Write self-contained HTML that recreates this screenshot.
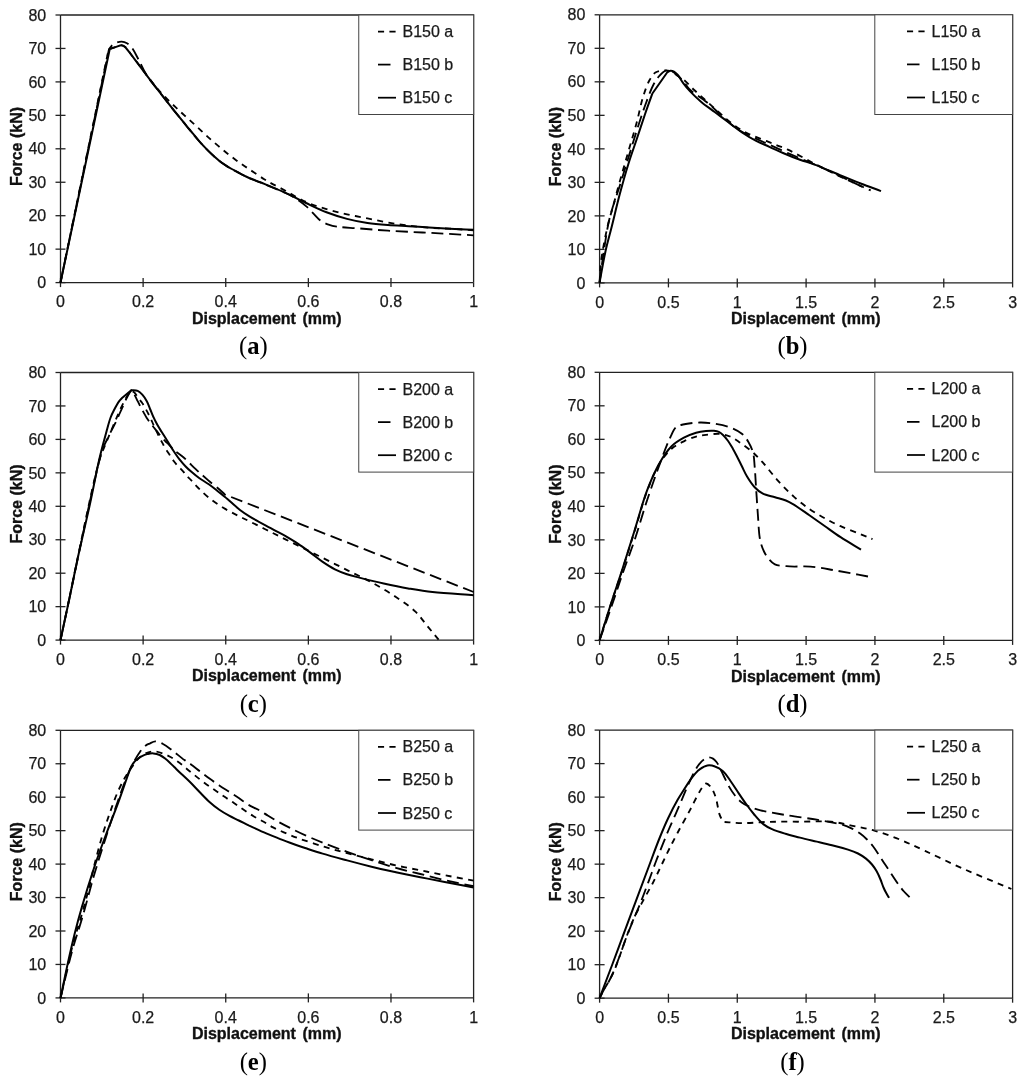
<!DOCTYPE html><html><head><meta charset="utf-8"><style>html,body{margin:0;padding:0;background:#fff;overflow:hidden;}svg{display:block;}.t{font-family:"Liberation Sans",Arial,sans-serif;font-size:16px;fill:#1a1a1a;stroke:#1a1a1a;stroke-width:0.25px;}.b{font-weight:bold;fill:#111;stroke:#111;stroke-width:0.35px;}.s{font-family:"Liberation Serif","Times New Roman",serif;font-size:24.6px;fill:#000;}</style></head><body>
<svg width="1024" height="1080" viewBox="0 0 1024 1080">
<rect width="1024" height="1080" fill="#fff"/>
<path d="M60.5,15.0 H473.6 V282.6" fill="none" stroke="#222" stroke-width="1.3"/>
<path d="M60.5,15.0 V282.6 H473.6" fill="none" stroke="#222" stroke-width="1.3"/>
<line x1="55.5" y1="282.60" x2="65.5" y2="282.60" stroke="#222" stroke-width="1.3"/>
<text x="46.2" y="288.2" class="t" text-anchor="end">0</text>
<line x1="55.5" y1="249.15" x2="65.5" y2="249.15" stroke="#222" stroke-width="1.3"/>
<text x="46.2" y="254.8" class="t" text-anchor="end">10</text>
<line x1="55.5" y1="215.70" x2="65.5" y2="215.70" stroke="#222" stroke-width="1.3"/>
<text x="46.2" y="221.3" class="t" text-anchor="end">20</text>
<line x1="55.5" y1="182.25" x2="65.5" y2="182.25" stroke="#222" stroke-width="1.3"/>
<text x="46.2" y="187.8" class="t" text-anchor="end">30</text>
<line x1="55.5" y1="148.80" x2="65.5" y2="148.80" stroke="#222" stroke-width="1.3"/>
<text x="46.2" y="154.4" class="t" text-anchor="end">40</text>
<line x1="55.5" y1="115.35" x2="65.5" y2="115.35" stroke="#222" stroke-width="1.3"/>
<text x="46.2" y="120.9" class="t" text-anchor="end">50</text>
<line x1="55.5" y1="81.90" x2="65.5" y2="81.90" stroke="#222" stroke-width="1.3"/>
<text x="46.2" y="87.5" class="t" text-anchor="end">60</text>
<line x1="55.5" y1="48.45" x2="65.5" y2="48.45" stroke="#222" stroke-width="1.3"/>
<text x="46.2" y="54.1" class="t" text-anchor="end">70</text>
<line x1="55.5" y1="15.00" x2="60.5" y2="15.00" stroke="#222" stroke-width="1.3"/>
<text x="46.2" y="20.6" class="t" text-anchor="end">80</text>
<line x1="60.50" y1="278.1" x2="60.50" y2="287.1" stroke="#222" stroke-width="1.3"/>
<text x="60.50" y="307.2" class="t" text-anchor="middle">0</text>
<line x1="143.12" y1="278.1" x2="143.12" y2="287.1" stroke="#222" stroke-width="1.3"/>
<text x="143.12" y="307.2" class="t" text-anchor="middle">0.2</text>
<line x1="225.74" y1="278.1" x2="225.74" y2="287.1" stroke="#222" stroke-width="1.3"/>
<text x="225.74" y="307.2" class="t" text-anchor="middle">0.4</text>
<line x1="308.36" y1="278.1" x2="308.36" y2="287.1" stroke="#222" stroke-width="1.3"/>
<text x="308.36" y="307.2" class="t" text-anchor="middle">0.6</text>
<line x1="390.98" y1="278.1" x2="390.98" y2="287.1" stroke="#222" stroke-width="1.3"/>
<text x="390.98" y="307.2" class="t" text-anchor="middle">0.8</text>
<line x1="473.60" y1="282.6" x2="473.60" y2="287.1" stroke="#222" stroke-width="1.3"/>
<text x="473.60" y="307.2" class="t" text-anchor="middle">1</text>
<text x="266.7" y="323.8" class="t b" text-anchor="middle" word-spacing="2">Displacement (mm)</text>
<text transform="translate(21.5,146.5) rotate(-90)" x="0" y="0" class="t b" text-anchor="middle">Force (kN)</text>
<path d="M60.5,282.5 L108.6,49.5 L108.6,49.5 C110.8,48.7 113.1,47.8 115.3,47.1 C117.4,46.4 119.7,45.2 121.5,45.3 C122.8,45.4 123.7,45.8 125.0,46.8 C127.5,48.7 130.7,54.1 134.0,58.3 C137.9,63.4 143.0,70.2 146.9,75.3 C150.2,79.6 152.8,83.3 156.0,87.0 C159.1,90.7 162.3,94.1 165.6,97.5 C168.9,100.9 172.5,104.3 175.8,107.4 C178.8,110.2 181.5,112.8 184.4,115.4 C187.3,118.0 190.1,120.5 193.0,123.1 C195.9,125.7 198.8,128.5 201.6,131.1 C204.3,133.6 206.8,136.0 209.5,138.4 C212.3,140.9 215.3,143.4 218.2,145.9 C221.0,148.3 223.8,150.7 226.7,153.0 C229.7,155.4 233.0,157.9 236.1,160.2 C239.0,162.3 241.8,164.2 244.7,166.2 C247.8,168.3 250.9,170.4 254.1,172.5 C257.4,174.7 261.3,177.4 264.2,179.2 C266.4,180.6 267.6,181.3 270.0,182.6 C273.9,184.8 280.0,187.8 285.5,190.8 C291.9,194.2 299.0,198.9 306.0,202.0 C312.7,205.0 319.6,207.1 326.5,209.2 C333.3,211.2 340.1,212.8 347.0,214.3 C353.8,215.8 360.7,217.0 367.5,218.4 C374.3,219.8 381.1,221.3 388.0,222.5 C394.8,223.7 401.7,224.7 408.6,225.6 C415.4,226.5 422.2,227.2 429.0,227.7 C435.8,228.2 442.5,228.3 449.6,228.7 C457.3,229.1 465.6,229.8 473.6,230.3" fill="none" stroke="#000" stroke-width="1.85" stroke-linejoin="round" stroke-dasharray="6 5.4"/>
<path d="M60.5,282.5 L109.0,49.2 L109.0,49.2 C110.2,47.8 111.2,46.1 112.5,45.0 C113.6,44.0 114.7,43.4 116.1,42.8 C117.7,42.2 119.8,41.5 121.6,41.6 C123.4,41.7 125.4,42.3 127.0,43.2 C128.7,44.2 130.2,45.6 131.7,47.5 C133.8,50.1 136.0,54.8 137.6,57.7 C138.7,59.8 139.2,61.0 140.3,63.1 C141.9,66.2 143.6,70.4 146.2,74.5 C149.7,80.1 156.1,87.6 160.2,93.0 C163.4,97.2 165.7,100.1 168.8,104.0 C172.2,108.4 176.8,114.0 180.0,118.0 C182.5,121.0 184.3,123.3 186.5,126.0 C188.7,128.6 190.8,131.3 193.0,133.9 C195.1,136.5 197.2,139.0 199.4,141.5 C201.5,143.9 203.7,146.3 205.9,148.6 C208.0,150.8 210.2,152.9 212.4,154.9 C214.5,156.9 216.7,158.8 218.9,160.6 C221.0,162.3 223.2,163.8 225.4,165.3 C227.5,166.7 229.5,167.9 231.8,169.2 C234.3,170.6 237.5,172.2 240.0,173.5 C242.2,174.6 243.9,175.7 246.0,176.7 C248.1,177.7 250.2,178.6 252.5,179.5 C255.0,180.5 257.6,181.4 260.3,182.5 C263.4,183.7 266.4,185.0 270.0,186.5 C274.6,188.4 281.5,191.2 285.5,193.0 C288.0,194.1 289.3,194.5 291.7,195.9 C295.6,198.2 302.0,202.7 306.0,206.1 C309.2,208.8 311.7,211.8 314.2,214.3 C316.4,216.5 318.0,218.8 320.4,220.5 C322.8,222.2 325.8,223.6 328.6,224.6 C331.3,225.6 333.4,226.1 336.8,226.6 C342.1,227.5 349.8,227.7 357.3,228.3 C366.5,229.0 377.0,230.0 388.0,230.7 C400.7,231.5 415.0,232.1 429.0,232.8 C443.6,233.6 458.7,234.5 473.6,235.3" fill="none" stroke="#000" stroke-width="1.85" stroke-linejoin="round" stroke-dasharray="12 5.8"/>
<path d="M60.5,282.5 L109.8,48.7 L109.8,48.7 C111.6,48.2 113.4,47.7 115.3,47.1 C117.4,46.5 120.3,45.0 122.0,45.2 C123.1,45.3 123.6,45.8 124.7,46.7 C127.0,48.7 130.7,54.1 134.0,58.4 C138.0,63.6 142.5,69.9 146.9,75.6 C151.3,81.3 156.2,87.7 160.2,92.8 C163.4,96.9 165.7,99.9 168.8,103.8 C172.2,108.2 176.8,113.8 180.0,117.8 C182.5,120.8 184.3,123.1 186.5,125.8 C188.7,128.4 190.8,131.1 193.0,133.7 C195.1,136.3 197.2,138.8 199.4,141.3 C201.5,143.7 203.7,146.1 205.9,148.4 C208.0,150.6 210.2,152.7 212.4,154.7 C214.5,156.7 216.7,158.6 218.9,160.4 C221.0,162.1 223.2,163.6 225.4,165.1 C227.5,166.5 229.5,167.7 231.8,169.0 C234.3,170.4 237.5,172.0 240.0,173.3 C242.2,174.4 243.9,175.5 246.0,176.5 C248.1,177.5 250.2,178.4 252.5,179.3 C255.0,180.3 257.6,181.2 260.3,182.3 C263.4,183.5 266.4,184.8 270.0,186.2 C274.6,188.1 280.0,190.3 285.5,192.8 C291.9,195.7 299.1,199.7 306.0,203.0 C312.8,206.2 319.6,209.6 326.5,212.3 C333.3,214.9 340.1,217.1 347.0,218.9 C353.8,220.7 360.6,222.0 367.5,223.0 C374.3,224.0 381.2,224.5 388.0,225.0 C394.9,225.5 401.8,225.8 408.6,226.2 C415.4,226.6 422.2,227.1 429.0,227.5 C435.8,227.9 442.5,228.3 449.6,228.7 C457.3,229.1 465.6,229.4 473.6,229.8" fill="none" stroke="#000" stroke-width="2" stroke-linejoin="round"/>
<rect x="358.75" y="15.0" width="114.9" height="99.5" fill="#fff" stroke="#444" stroke-width="1"/>
<path d="M378,31.5 h6.1 M389.4,31.5 h6.2" stroke="#000" stroke-width="1.75"/>
<text x="402.5" y="37.0" class="t">B150 a</text>
<path d="M378,64.6 h12.5" stroke="#000" stroke-width="1.75"/>
<text x="402.5" y="70.1" class="t">B150 b</text>
<path d="M378,97.7 h18" stroke="#000" stroke-width="1.75"/>
<text x="402.5" y="103.2" class="t">B150 c</text>
<text x="253.3" y="354.4" class="s" text-anchor="middle">(<tspan font-weight="bold">a</tspan>)</text>
<path d="M599.6,14.8 H1012.6 V282.90000000000003" fill="none" stroke="#222" stroke-width="1.3"/>
<path d="M599.6,14.8 V282.90000000000003 H1012.6" fill="none" stroke="#222" stroke-width="1.3"/>
<line x1="594.6" y1="282.90" x2="604.6" y2="282.90" stroke="#222" stroke-width="1.3"/>
<text x="585.3" y="288.5" class="t" text-anchor="end">0</text>
<line x1="594.6" y1="249.39" x2="604.6" y2="249.39" stroke="#222" stroke-width="1.3"/>
<text x="585.3" y="255.0" class="t" text-anchor="end">10</text>
<line x1="594.6" y1="215.88" x2="604.6" y2="215.88" stroke="#222" stroke-width="1.3"/>
<text x="585.3" y="221.5" class="t" text-anchor="end">20</text>
<line x1="594.6" y1="182.36" x2="604.6" y2="182.36" stroke="#222" stroke-width="1.3"/>
<text x="585.3" y="188.0" class="t" text-anchor="end">30</text>
<line x1="594.6" y1="148.85" x2="604.6" y2="148.85" stroke="#222" stroke-width="1.3"/>
<text x="585.3" y="154.5" class="t" text-anchor="end">40</text>
<line x1="594.6" y1="115.34" x2="604.6" y2="115.34" stroke="#222" stroke-width="1.3"/>
<text x="585.3" y="120.9" class="t" text-anchor="end">50</text>
<line x1="594.6" y1="81.83" x2="604.6" y2="81.83" stroke="#222" stroke-width="1.3"/>
<text x="585.3" y="87.4" class="t" text-anchor="end">60</text>
<line x1="594.6" y1="48.31" x2="604.6" y2="48.31" stroke="#222" stroke-width="1.3"/>
<text x="585.3" y="53.9" class="t" text-anchor="end">70</text>
<line x1="594.6" y1="14.80" x2="599.6" y2="14.80" stroke="#222" stroke-width="1.3"/>
<text x="585.3" y="20.4" class="t" text-anchor="end">80</text>
<line x1="599.60" y1="278.40000000000003" x2="599.60" y2="287.40000000000003" stroke="#222" stroke-width="1.3"/>
<text x="599.60" y="307.5" class="t" text-anchor="middle">0</text>
<line x1="668.43" y1="278.40000000000003" x2="668.43" y2="287.40000000000003" stroke="#222" stroke-width="1.3"/>
<text x="668.43" y="307.5" class="t" text-anchor="middle">0.5</text>
<line x1="737.27" y1="278.40000000000003" x2="737.27" y2="287.40000000000003" stroke="#222" stroke-width="1.3"/>
<text x="737.27" y="307.5" class="t" text-anchor="middle">1</text>
<line x1="806.10" y1="278.40000000000003" x2="806.10" y2="287.40000000000003" stroke="#222" stroke-width="1.3"/>
<text x="806.10" y="307.5" class="t" text-anchor="middle">1.5</text>
<line x1="874.93" y1="278.40000000000003" x2="874.93" y2="287.40000000000003" stroke="#222" stroke-width="1.3"/>
<text x="874.93" y="307.5" class="t" text-anchor="middle">2</text>
<line x1="943.77" y1="278.40000000000003" x2="943.77" y2="287.40000000000003" stroke="#222" stroke-width="1.3"/>
<text x="943.77" y="307.5" class="t" text-anchor="middle">2.5</text>
<line x1="1012.60" y1="282.90000000000003" x2="1012.60" y2="287.40000000000003" stroke="#222" stroke-width="1.3"/>
<text x="1012.60" y="307.5" class="t" text-anchor="middle">3</text>
<text x="805.7" y="324.1" class="t b" text-anchor="middle" word-spacing="2">Displacement (mm)</text>
<text transform="translate(560.6,146.6) rotate(-90)" x="0" y="0" class="t b" text-anchor="middle">Force (kN)</text>
<path d="M599.6,282.5 C600.1,275.0 600.2,268.2 601.2,260.0 C602.6,250.0 605.2,236.7 607.5,226.7 C609.4,218.3 611.7,211.4 613.8,203.8 C615.8,196.1 617.7,188.9 620.0,180.8 C622.5,171.7 625.5,161.4 628.3,151.7 C631.1,142.0 634.2,131.9 636.7,122.5 C639.0,113.9 640.6,104.9 642.9,97.5 C644.8,91.3 646.8,85.3 649.2,80.8 C651.1,77.4 652.8,74.2 655.4,72.5 C657.8,70.9 661.0,70.6 663.8,70.4 C666.2,70.2 668.7,70.4 671.0,71.3 C673.5,72.2 675.7,74.4 678.0,76.0 C680.2,77.5 682.3,78.6 684.6,80.5 C687.6,83.0 690.7,86.7 694.2,90.0 C698.3,93.9 703.3,98.3 707.9,102.4 C712.4,106.5 716.9,110.7 721.5,114.7 C726.0,118.6 730.5,122.7 735.2,126.0 C739.6,129.1 744.3,131.7 748.9,134.0 C753.4,136.2 758.0,137.7 762.5,139.5 C767.1,141.3 771.9,143.3 776.2,145.0 C780.1,146.6 782.8,147.4 787.3,149.4 C794.5,152.7 805.6,159.1 814.7,163.8 C823.8,168.4 832.7,173.0 842.0,177.4 C851.4,181.9 861.1,186.1 870.7,190.4" fill="none" stroke="#000" stroke-width="1.85" stroke-linejoin="round" stroke-dasharray="6 5.4"/>
<path d="M599.6,282.5 C601.1,271.7 602.3,260.7 604.0,250.0 C605.7,239.4 607.0,228.9 609.6,218.3 C612.3,207.3 616.7,195.5 620.0,185.0 C622.9,175.5 625.5,166.9 628.3,157.9 C631.1,148.9 633.9,139.6 636.7,130.8 C639.4,122.3 642.1,113.7 645.0,105.8 C647.7,98.5 650.4,90.5 653.3,85.0 C655.3,81.1 657.3,78.1 659.6,75.6 C661.5,73.5 663.7,71.3 665.8,70.6 C667.5,70.1 669.3,70.4 671.0,71.0 C673.0,71.7 675.0,73.4 677.0,75.0 C679.3,76.9 681.9,79.6 684.0,82.0 C686.0,84.3 686.8,86.6 689.4,89.2 C693.4,93.2 701.3,97.7 706.8,102.2 C712.0,106.5 716.7,111.2 721.5,115.5 C726.1,119.6 730.1,124.1 735.0,127.5 C739.8,130.9 745.8,133.7 750.4,136.0 C753.9,137.8 756.0,138.6 760.0,140.5 C766.8,143.6 777.3,148.4 787.3,152.8 C799.6,158.2 815.4,164.7 828.4,170.6 C840.4,176.1 851.1,181.5 862.5,187.0" fill="none" stroke="#000" stroke-width="1.85" stroke-linejoin="round" stroke-dasharray="12 5.8"/>
<path d="M599.6,282.5 C601.5,272.2 603.3,261.4 605.4,251.7 C607.3,242.9 609.5,235.6 611.7,226.7 C614.3,216.4 617.1,204.0 620.0,193.3 C622.7,183.2 625.4,173.5 628.3,164.2 C631.0,155.5 633.9,147.5 636.7,139.2 C639.5,130.9 642.3,122.1 645.0,114.2 C647.5,107.0 649.9,100.4 652.4,93.5 L652.4,93.5 L667.3,72.2 L667.3,72.2 C668.4,71.7 669.4,70.8 670.5,70.7 C671.6,70.6 672.9,71.0 674.0,71.6 C675.3,72.3 676.5,73.5 677.8,75.0 C679.6,77.1 681.2,80.5 683.2,83.2 C685.3,86.0 687.4,88.6 690.1,91.4 C693.2,94.7 697.1,98.4 701.0,101.7 C705.2,105.3 710.1,108.6 714.7,112.0 C719.3,115.4 723.8,118.8 728.4,122.2 C732.9,125.6 737.4,129.4 742.0,132.5 C746.5,135.5 751.1,138.3 755.7,140.7 C760.2,143.0 764.8,144.7 769.4,146.8 C773.9,148.8 778.2,150.9 783.0,153.0 C788.3,155.3 794.5,157.8 800.0,159.8 C805.0,161.6 809.1,162.5 814.7,164.6 C822.5,167.5 833.6,172.6 842.0,176.0 C849.2,178.9 855.4,181.4 862.0,184.0 C868.4,186.5 874.7,188.7 881.0,191.1" fill="none" stroke="#000" stroke-width="2" stroke-linejoin="round"/>
<rect x="874.8" y="14.8" width="137.8" height="99.7" fill="#fff" stroke="#444" stroke-width="1"/>
<path d="M907,31.3 h6.1 M918.4,31.3 h6.2" stroke="#000" stroke-width="1.75"/>
<text x="931.5" y="36.8" class="t">L150 a</text>
<path d="M907,64.4 h12.5" stroke="#000" stroke-width="1.75"/>
<text x="931.5" y="69.9" class="t">L150 b</text>
<path d="M907,97.5 h18" stroke="#000" stroke-width="1.75"/>
<text x="931.5" y="103.0" class="t">L150 c</text>
<text x="792.5" y="354.4" class="s" text-anchor="middle">(<tspan font-weight="bold">b</tspan>)</text>
<path d="M60.5,372.5 H473.6 V640.1" fill="none" stroke="#222" stroke-width="1.3"/>
<path d="M60.5,372.5 V640.1 H473.6" fill="none" stroke="#222" stroke-width="1.3"/>
<line x1="55.5" y1="640.10" x2="65.5" y2="640.10" stroke="#222" stroke-width="1.3"/>
<text x="46.2" y="645.7" class="t" text-anchor="end">0</text>
<line x1="55.5" y1="606.65" x2="65.5" y2="606.65" stroke="#222" stroke-width="1.3"/>
<text x="46.2" y="612.2" class="t" text-anchor="end">10</text>
<line x1="55.5" y1="573.20" x2="65.5" y2="573.20" stroke="#222" stroke-width="1.3"/>
<text x="46.2" y="578.8" class="t" text-anchor="end">20</text>
<line x1="55.5" y1="539.75" x2="65.5" y2="539.75" stroke="#222" stroke-width="1.3"/>
<text x="46.2" y="545.4" class="t" text-anchor="end">30</text>
<line x1="55.5" y1="506.30" x2="65.5" y2="506.30" stroke="#222" stroke-width="1.3"/>
<text x="46.2" y="511.9" class="t" text-anchor="end">40</text>
<line x1="55.5" y1="472.85" x2="65.5" y2="472.85" stroke="#222" stroke-width="1.3"/>
<text x="46.2" y="478.5" class="t" text-anchor="end">50</text>
<line x1="55.5" y1="439.40" x2="65.5" y2="439.40" stroke="#222" stroke-width="1.3"/>
<text x="46.2" y="445.0" class="t" text-anchor="end">60</text>
<line x1="55.5" y1="405.95" x2="65.5" y2="405.95" stroke="#222" stroke-width="1.3"/>
<text x="46.2" y="411.6" class="t" text-anchor="end">70</text>
<line x1="55.5" y1="372.50" x2="60.5" y2="372.50" stroke="#222" stroke-width="1.3"/>
<text x="46.2" y="378.1" class="t" text-anchor="end">80</text>
<line x1="60.50" y1="635.6" x2="60.50" y2="644.6" stroke="#222" stroke-width="1.3"/>
<text x="60.50" y="664.7" class="t" text-anchor="middle">0</text>
<line x1="143.12" y1="635.6" x2="143.12" y2="644.6" stroke="#222" stroke-width="1.3"/>
<text x="143.12" y="664.7" class="t" text-anchor="middle">0.2</text>
<line x1="225.74" y1="635.6" x2="225.74" y2="644.6" stroke="#222" stroke-width="1.3"/>
<text x="225.74" y="664.7" class="t" text-anchor="middle">0.4</text>
<line x1="308.36" y1="635.6" x2="308.36" y2="644.6" stroke="#222" stroke-width="1.3"/>
<text x="308.36" y="664.7" class="t" text-anchor="middle">0.6</text>
<line x1="390.98" y1="635.6" x2="390.98" y2="644.6" stroke="#222" stroke-width="1.3"/>
<text x="390.98" y="664.7" class="t" text-anchor="middle">0.8</text>
<line x1="473.60" y1="640.1" x2="473.60" y2="644.6" stroke="#222" stroke-width="1.3"/>
<text x="473.60" y="664.7" class="t" text-anchor="middle">1</text>
<text x="266.7" y="681.3" class="t b" text-anchor="middle" word-spacing="2">Displacement (mm)</text>
<text transform="translate(21.5,504.0) rotate(-90)" x="0" y="0" class="t b" text-anchor="middle">Force (kN)</text>
<path d="M60.5,640.0 C73.7,579.3 92.3,483.1 100.0,458.0 C102.1,451.3 103.3,449.6 105.0,445.5 C106.7,441.5 108.3,437.5 110.0,433.5 C111.7,429.5 113.3,425.5 115.0,421.5 C116.7,417.6 118.3,413.7 120.0,410.0 C121.6,406.5 123.4,402.9 125.0,400.0 C126.2,397.7 127.3,395.6 128.5,394.0 C129.4,392.7 130.4,391.9 131.3,390.8 L131.3,390.8 C132.4,391.4 133.5,391.7 134.5,392.6 C135.7,393.7 136.5,395.7 137.7,397.3 C139.1,399.2 141.0,401.2 142.4,403.3 C143.8,405.3 144.8,407.3 146.0,409.5 C147.4,412.0 149.0,415.0 150.3,417.7 C151.6,420.3 152.6,423.0 153.8,425.5 C154.9,427.9 156.2,430.4 157.2,432.6 C158.0,434.4 158.6,435.9 159.5,437.6 C160.5,439.5 161.8,441.8 162.8,443.6 C163.6,445.1 164.0,446.2 164.9,447.7 C166.0,449.5 167.7,451.8 168.8,453.6 C169.7,455.0 170.3,456.1 171.2,457.5 C172.3,459.2 173.9,461.2 175.1,462.8 C176.1,464.1 177.0,465.0 178.1,466.2 C179.5,467.8 181.5,469.5 182.9,471.1 C184.1,472.4 184.7,473.7 185.9,475.0 C187.3,476.6 189.0,478.0 190.8,479.8 C193.0,482.0 195.1,484.8 197.8,487.5 C201.0,490.7 204.8,494.5 208.9,497.8 C213.3,501.3 218.4,504.8 223.3,507.8 C228.0,510.7 233.2,513.2 237.8,515.6 C241.9,517.7 244.8,519.0 249.4,521.3 C256.0,524.6 265.7,529.4 273.8,533.5 C281.9,537.6 290.1,541.6 298.2,545.7 C306.4,549.8 314.5,553.8 322.7,557.9 C330.8,562.0 339.0,566.0 347.1,570.1 C355.2,574.2 363.5,577.9 371.5,582.3 C379.7,586.8 388.3,591.9 395.9,597.0 C402.9,601.7 409.9,606.4 415.4,611.6 C420.3,616.2 423.6,621.5 427.6,626.3 C431.4,630.9 434.9,635.2 438.6,639.7" fill="none" stroke="#000" stroke-width="1.85" stroke-linejoin="round" stroke-dasharray="6 5.4"/>
<path d="M60.5,640.0 C73.5,580.0 92.5,486.1 99.5,460.0 C101.5,452.6 102.4,450.1 104.0,446.0 C105.3,442.6 106.9,439.9 108.3,437.0 C109.6,434.3 110.9,431.6 112.2,429.0 C113.5,426.5 114.9,424.0 116.1,421.5 C117.2,419.1 118.1,417.0 119.2,414.5 C120.5,411.6 122.1,408.1 123.5,405.0 C124.8,402.1 126.1,399.1 127.5,396.5 C128.7,394.2 130.0,392.3 131.3,390.2 L131.3,390.2 C131.9,391.0 132.5,391.5 133.2,392.6 C134.5,394.5 136.4,398.6 137.7,401.2 C138.8,403.3 139.6,405.1 140.6,407.0 C141.6,408.8 142.6,410.6 143.6,412.4 C144.6,414.2 145.5,416.0 146.6,417.7 C147.6,419.3 148.7,420.8 149.8,422.3 C151.0,423.9 152.3,425.4 153.5,427.0 C154.7,428.5 156.0,430.1 157.2,431.6 C158.4,433.1 159.6,434.7 160.9,436.2 C162.2,437.8 163.6,439.3 165.0,440.8 C166.4,442.3 168.0,443.7 169.3,445.0 C170.5,446.2 171.6,447.4 172.7,448.5 C173.8,449.6 174.7,450.7 176.1,451.8 C177.9,453.3 180.6,454.9 182.5,456.5 C184.3,457.9 185.5,459.2 187.3,460.9 C189.6,463.1 192.9,466.5 195.2,468.7 C197.0,470.4 198.2,471.5 200.0,473.1 C202.4,475.2 205.3,477.8 208.3,480.4 C211.8,483.4 216.9,487.3 220.0,490.0 C222.0,491.8 223.3,493.1 225.0,494.6 L225.0,494.6 L473.6,592.0" fill="none" stroke="#000" stroke-width="1.85" stroke-linejoin="round" stroke-dasharray="12 5.8"/>
<path d="M60.5,640.0 C63.1,627.8 65.6,616.5 68.4,603.3 C71.7,587.9 75.2,569.6 78.8,553.3 C82.2,537.7 85.8,523.1 89.2,507.5 C92.8,491.2 96.4,471.5 99.7,457.5 C102.1,447.2 104.7,438.2 106.7,430.8 C108.1,425.6 109.2,421.2 110.6,417.5 C111.6,414.8 112.5,413.0 113.8,410.5 C115.3,407.6 117.6,403.3 119.2,401.1 C120.2,399.7 121.1,399.0 122.0,398.0 L122.0,398.0 L131.3,390.2 L131.3,390.2 C133.4,390.4 135.8,390.0 137.7,390.8 C139.5,391.6 140.9,393.1 142.3,394.7 C143.9,396.5 145.5,398.8 146.8,401.2 C148.2,403.7 149.2,406.8 150.3,409.5 C151.4,412.1 152.3,414.7 153.5,417.2 C154.6,419.7 155.8,422.1 157.2,424.6 C158.6,427.2 160.3,429.7 161.9,432.3 C163.7,435.1 165.6,438.1 167.4,441.0 C169.2,443.9 170.8,446.7 172.7,449.6 C174.8,452.8 177.2,456.5 179.5,459.4 C181.5,461.9 183.3,464.1 185.4,466.2 C187.4,468.3 189.5,470.2 191.7,472.1 C194.0,474.1 196.4,476.1 199.1,478.0 C202.1,480.1 205.7,482.1 208.8,484.3 C211.9,486.5 215.0,489.0 217.8,491.2 C220.3,493.2 222.2,494.6 225.0,496.9 C229.1,500.3 235.5,506.5 240.0,510.0 C243.4,512.6 245.5,514.0 249.4,516.4 C255.6,520.2 267.1,526.1 273.8,529.8 C278.6,532.4 282.0,534.0 286.0,536.3 C290.1,538.7 294.2,541.1 298.2,543.8 C302.3,546.5 306.3,549.6 310.4,552.6 C314.5,555.6 318.5,559.0 322.7,561.8 C326.7,564.5 330.8,567.2 334.9,569.3 C338.9,571.3 342.9,572.8 347.0,574.2 C351.0,575.6 354.5,576.4 359.3,577.6 C366.0,579.3 375.5,581.7 383.7,583.5 C391.8,585.3 399.9,587.0 408.1,588.4 C416.2,589.8 423.3,591.1 432.5,592.1 C444.4,593.4 459.9,594.2 473.6,595.2" fill="none" stroke="#000" stroke-width="2" stroke-linejoin="round"/>
<rect x="358.75" y="372.5" width="114.9" height="99.6" fill="#fff" stroke="#444" stroke-width="1"/>
<path d="M378,389.0 h6.1 M389.4,389.0 h6.2" stroke="#000" stroke-width="1.75"/>
<text x="402.5" y="394.5" class="t">B200 a</text>
<path d="M378,422.1 h12.5" stroke="#000" stroke-width="1.75"/>
<text x="402.5" y="427.6" class="t">B200 b</text>
<path d="M378,455.2 h18" stroke="#000" stroke-width="1.75"/>
<text x="402.5" y="460.7" class="t">B200 c</text>
<text x="253.3" y="711.9" class="s" text-anchor="middle">(<tspan font-weight="bold">c</tspan>)</text>
<path d="M599.6,372.3 H1012.6 V640.4000000000001" fill="none" stroke="#222" stroke-width="1.3"/>
<path d="M599.6,372.3 V640.4000000000001 H1012.6" fill="none" stroke="#222" stroke-width="1.3"/>
<line x1="594.6" y1="640.40" x2="604.6" y2="640.40" stroke="#222" stroke-width="1.3"/>
<text x="585.3" y="646.0" class="t" text-anchor="end">0</text>
<line x1="594.6" y1="606.89" x2="604.6" y2="606.89" stroke="#222" stroke-width="1.3"/>
<text x="585.3" y="612.5" class="t" text-anchor="end">10</text>
<line x1="594.6" y1="573.38" x2="604.6" y2="573.38" stroke="#222" stroke-width="1.3"/>
<text x="585.3" y="579.0" class="t" text-anchor="end">20</text>
<line x1="594.6" y1="539.86" x2="604.6" y2="539.86" stroke="#222" stroke-width="1.3"/>
<text x="585.3" y="545.5" class="t" text-anchor="end">30</text>
<line x1="594.6" y1="506.35" x2="604.6" y2="506.35" stroke="#222" stroke-width="1.3"/>
<text x="585.3" y="512.0" class="t" text-anchor="end">40</text>
<line x1="594.6" y1="472.84" x2="604.6" y2="472.84" stroke="#222" stroke-width="1.3"/>
<text x="585.3" y="478.4" class="t" text-anchor="end">50</text>
<line x1="594.6" y1="439.33" x2="604.6" y2="439.33" stroke="#222" stroke-width="1.3"/>
<text x="585.3" y="444.9" class="t" text-anchor="end">60</text>
<line x1="594.6" y1="405.81" x2="604.6" y2="405.81" stroke="#222" stroke-width="1.3"/>
<text x="585.3" y="411.4" class="t" text-anchor="end">70</text>
<line x1="594.6" y1="372.30" x2="599.6" y2="372.30" stroke="#222" stroke-width="1.3"/>
<text x="585.3" y="377.9" class="t" text-anchor="end">80</text>
<line x1="599.60" y1="635.9000000000001" x2="599.60" y2="644.9000000000001" stroke="#222" stroke-width="1.3"/>
<text x="599.60" y="665.0" class="t" text-anchor="middle">0</text>
<line x1="668.43" y1="635.9000000000001" x2="668.43" y2="644.9000000000001" stroke="#222" stroke-width="1.3"/>
<text x="668.43" y="665.0" class="t" text-anchor="middle">0.5</text>
<line x1="737.27" y1="635.9000000000001" x2="737.27" y2="644.9000000000001" stroke="#222" stroke-width="1.3"/>
<text x="737.27" y="665.0" class="t" text-anchor="middle">1</text>
<line x1="806.10" y1="635.9000000000001" x2="806.10" y2="644.9000000000001" stroke="#222" stroke-width="1.3"/>
<text x="806.10" y="665.0" class="t" text-anchor="middle">1.5</text>
<line x1="874.93" y1="635.9000000000001" x2="874.93" y2="644.9000000000001" stroke="#222" stroke-width="1.3"/>
<text x="874.93" y="665.0" class="t" text-anchor="middle">2</text>
<line x1="943.77" y1="635.9000000000001" x2="943.77" y2="644.9000000000001" stroke="#222" stroke-width="1.3"/>
<text x="943.77" y="665.0" class="t" text-anchor="middle">2.5</text>
<line x1="1012.60" y1="640.4000000000001" x2="1012.60" y2="644.9000000000001" stroke="#222" stroke-width="1.3"/>
<text x="1012.60" y="665.0" class="t" text-anchor="middle">3</text>
<text x="805.7" y="681.6" class="t b" text-anchor="middle" word-spacing="2">Displacement (mm)</text>
<text transform="translate(560.6,504.1) rotate(-90)" x="0" y="0" class="t b" text-anchor="middle">Force (kN)</text>
<path d="M599.6,640.0 C603.2,628.7 606.6,617.5 610.3,606.0 C614.2,594.0 618.5,581.9 622.5,569.5 C626.6,556.7 630.7,543.5 634.8,530.5 C638.9,517.4 642.6,502.8 647.1,491.0 C650.9,481.0 654.7,471.5 659.3,464.0 C663.0,457.9 667.1,452.6 671.6,448.7 C675.4,445.4 679.7,443.3 683.9,441.3 C687.9,439.3 692.2,437.7 696.1,436.6 C699.5,435.6 702.4,435.2 706.0,434.8 C710.3,434.3 716.0,433.6 720.3,434.0 C723.9,434.4 726.9,435.2 730.0,436.5 C733.2,437.8 735.8,439.8 739.0,441.9 C742.9,444.5 747.7,447.9 751.6,451.2 C755.5,454.6 758.6,458.0 762.5,462.2 C767.3,467.5 772.8,475.0 778.1,480.9 C783.2,486.5 788.4,491.8 793.8,496.6 C798.8,501.1 804.1,505.3 809.4,509.0 C814.5,512.5 819.7,515.5 825.0,518.4 C830.1,521.2 835.1,523.8 840.6,526.2 C846.7,529.0 854.2,531.7 860.0,534.0 C864.6,535.9 868.3,537.5 872.5,539.2" fill="none" stroke="#000" stroke-width="1.85" stroke-linejoin="round" stroke-dasharray="6 5.4"/>
<path d="M599.6,640.0 C603.2,630.0 606.7,620.5 610.3,610.0 C614.3,598.5 618.4,585.7 622.5,573.8 C626.5,562.2 630.8,551.4 634.8,539.5 C639.0,526.9 642.7,513.4 647.1,500.2 C651.6,486.7 657.1,471.0 661.4,459.6 C664.5,451.2 667.2,443.9 670.0,438.0 C672.1,433.7 673.5,429.4 676.1,427.2 C678.1,425.5 680.1,425.2 683.0,424.5 C687.4,423.4 694.5,422.6 700.0,422.5 C705.3,422.4 710.4,423.0 715.6,423.9 C720.8,424.8 726.6,425.9 731.2,427.8 C735.3,429.4 739.3,431.5 742.2,434.0 C744.8,436.3 746.6,438.9 748.4,441.9 C750.3,445.1 752.0,448.8 753.1,452.8 C754.2,457.1 754.2,461.6 754.7,466.9 C755.3,473.7 755.7,482.5 756.2,490.3 C756.8,498.1 757.2,505.7 757.8,513.8 C758.5,522.3 758.7,533.4 760.2,540.3 C761.2,544.9 762.5,548.3 764.0,551.5 C765.2,554.0 766.3,556.0 768.0,558.0 C769.9,560.3 771.9,562.9 774.9,564.3 C778.7,566.1 784.3,566.0 789.7,566.4 C796.0,566.9 803.2,566.0 810.3,566.6 C817.9,567.2 825.2,568.7 833.9,570.2 C844.8,572.0 858.5,574.7 870.8,577.0" fill="none" stroke="#000" stroke-width="1.85" stroke-linejoin="round" stroke-dasharray="12 5.8"/>
<path d="M599.6,640.0 C603.2,628.6 606.6,617.3 610.3,605.7 C614.2,593.6 618.5,581.4 622.5,568.9 C626.6,556.1 630.7,542.8 634.8,529.7 C638.9,516.6 642.6,502.2 647.1,490.4 C650.9,480.4 654.8,471.2 659.3,463.4 C663.1,456.8 667.1,450.6 671.6,446.2 C675.4,442.5 679.7,440.0 683.9,437.7 C687.9,435.6 692.2,433.8 696.1,432.7 C699.5,431.7 702.9,431.3 706.0,431.0 C708.8,430.7 711.7,430.6 714.0,430.8 C715.8,431.0 717.3,431.2 718.8,431.9 C720.3,432.6 721.6,433.7 723.0,435.0 C724.7,436.6 726.5,438.8 728.1,441.0 C729.8,443.4 731.4,446.3 733.0,449.0 C734.6,451.8 736.0,454.6 737.5,457.5 C739.0,460.4 740.5,463.4 742.0,466.5 C743.6,469.7 744.9,473.0 746.9,476.2 C749.1,479.9 751.9,484.2 754.7,487.2 C757.1,489.8 759.4,491.8 762.5,493.4 C766.0,495.3 771.0,496.1 775.0,497.3 C778.8,498.4 782.6,499.2 785.9,500.5 C788.8,501.7 790.7,502.8 793.8,504.6 C798.1,507.2 804.2,511.7 809.4,515.3 C814.6,518.9 819.8,522.6 825.0,526.2 C830.2,529.9 835.0,533.5 840.6,537.2 C846.9,541.3 854.2,545.5 861.0,549.6" fill="none" stroke="#000" stroke-width="2" stroke-linejoin="round"/>
<rect x="874.8" y="372.3" width="137.8" height="99.8" fill="#fff" stroke="#444" stroke-width="1"/>
<path d="M907,388.8 h6.1 M918.4,388.8 h6.2" stroke="#000" stroke-width="1.75"/>
<text x="931.5" y="394.3" class="t">L200 a</text>
<path d="M907,421.9 h12.5" stroke="#000" stroke-width="1.75"/>
<text x="931.5" y="427.4" class="t">L200 b</text>
<path d="M907,455.0 h18" stroke="#000" stroke-width="1.75"/>
<text x="931.5" y="460.5" class="t">L200 c</text>
<text x="792.5" y="711.9" class="s" text-anchor="middle">(<tspan font-weight="bold">d</tspan>)</text>
<path d="M60.5,730.3 H473.6 V997.9" fill="none" stroke="#222" stroke-width="1.3"/>
<path d="M60.5,730.3 V997.9 H473.6" fill="none" stroke="#222" stroke-width="1.3"/>
<line x1="55.5" y1="997.90" x2="65.5" y2="997.90" stroke="#222" stroke-width="1.3"/>
<text x="46.2" y="1003.5" class="t" text-anchor="end">0</text>
<line x1="55.5" y1="964.45" x2="65.5" y2="964.45" stroke="#222" stroke-width="1.3"/>
<text x="46.2" y="970.0" class="t" text-anchor="end">10</text>
<line x1="55.5" y1="931.00" x2="65.5" y2="931.00" stroke="#222" stroke-width="1.3"/>
<text x="46.2" y="936.6" class="t" text-anchor="end">20</text>
<line x1="55.5" y1="897.55" x2="65.5" y2="897.55" stroke="#222" stroke-width="1.3"/>
<text x="46.2" y="903.1" class="t" text-anchor="end">30</text>
<line x1="55.5" y1="864.10" x2="65.5" y2="864.10" stroke="#222" stroke-width="1.3"/>
<text x="46.2" y="869.7" class="t" text-anchor="end">40</text>
<line x1="55.5" y1="830.65" x2="65.5" y2="830.65" stroke="#222" stroke-width="1.3"/>
<text x="46.2" y="836.2" class="t" text-anchor="end">50</text>
<line x1="55.5" y1="797.20" x2="65.5" y2="797.20" stroke="#222" stroke-width="1.3"/>
<text x="46.2" y="802.8" class="t" text-anchor="end">60</text>
<line x1="55.5" y1="763.75" x2="65.5" y2="763.75" stroke="#222" stroke-width="1.3"/>
<text x="46.2" y="769.4" class="t" text-anchor="end">70</text>
<line x1="55.5" y1="730.30" x2="60.5" y2="730.30" stroke="#222" stroke-width="1.3"/>
<text x="46.2" y="735.9" class="t" text-anchor="end">80</text>
<line x1="60.50" y1="993.4" x2="60.50" y2="1002.4" stroke="#222" stroke-width="1.3"/>
<text x="60.50" y="1022.5" class="t" text-anchor="middle">0</text>
<line x1="143.12" y1="993.4" x2="143.12" y2="1002.4" stroke="#222" stroke-width="1.3"/>
<text x="143.12" y="1022.5" class="t" text-anchor="middle">0.2</text>
<line x1="225.74" y1="993.4" x2="225.74" y2="1002.4" stroke="#222" stroke-width="1.3"/>
<text x="225.74" y="1022.5" class="t" text-anchor="middle">0.4</text>
<line x1="308.36" y1="993.4" x2="308.36" y2="1002.4" stroke="#222" stroke-width="1.3"/>
<text x="308.36" y="1022.5" class="t" text-anchor="middle">0.6</text>
<line x1="390.98" y1="993.4" x2="390.98" y2="1002.4" stroke="#222" stroke-width="1.3"/>
<text x="390.98" y="1022.5" class="t" text-anchor="middle">0.8</text>
<line x1="473.60" y1="997.9" x2="473.60" y2="1002.4" stroke="#222" stroke-width="1.3"/>
<text x="473.60" y="1022.5" class="t" text-anchor="middle">1</text>
<text x="266.7" y="1039.1" class="t b" text-anchor="middle" word-spacing="2">Displacement (mm)</text>
<text transform="translate(21.5,861.8) rotate(-90)" x="0" y="0" class="t b" text-anchor="middle">Force (kN)</text>
<path d="M60.5,998.0 C64.5,980.7 68.5,961.3 72.5,946.0 C75.7,933.8 79.2,923.7 82.1,913.5 C84.6,904.5 86.8,896.5 89.0,888.0 C91.1,879.5 92.8,871.1 95.0,862.5 C97.3,853.5 99.9,843.7 102.5,835.0 C104.9,827.1 107.4,819.8 110.0,812.5 C112.4,805.6 114.8,798.6 117.5,792.5 C119.9,787.1 122.4,782.1 125.0,777.5 C127.4,773.4 129.9,769.8 132.5,766.2 C134.9,763.0 137.3,759.3 140.0,757.0 C142.2,755.1 144.5,753.7 147.0,752.8 C149.6,751.9 152.3,751.2 155.4,751.5 C159.3,751.8 164.4,754.0 168.3,755.8 C171.9,757.5 174.9,759.5 178.0,761.7 C181.0,763.8 183.8,766.5 186.6,768.7 C189.1,770.8 191.2,772.5 193.9,774.6 C197.1,777.2 201.1,780.4 204.6,783.0 C207.9,785.4 211.1,787.5 214.4,789.8 C217.7,792.1 220.9,794.4 224.2,796.6 C227.4,798.8 230.7,800.8 233.9,803.0 C237.2,805.2 240.4,807.6 243.7,809.8 C247.0,812.0 250.2,814.2 253.5,816.2 C256.7,818.1 260.0,819.7 263.2,821.5 C266.5,823.4 269.6,825.6 273.0,827.4 C276.5,829.2 279.9,830.6 283.8,832.3 C288.2,834.2 292.7,836.2 298.2,838.2 C305.3,840.8 314.5,843.8 322.7,846.3 C330.8,848.8 339.0,851.0 347.1,853.2 C355.2,855.4 363.4,857.3 371.5,859.3 C379.6,861.3 387.7,863.6 395.9,865.4 C404.0,867.2 412.2,868.7 420.3,870.3 C428.4,871.9 436.2,873.6 444.7,875.2 C453.9,877.0 464.0,878.8 473.6,880.6" fill="none" stroke="#000" stroke-width="1.85" stroke-linejoin="round" stroke-dasharray="6 5.4"/>
<path d="M60.5,998.0 C64.5,981.9 68.5,963.9 72.5,949.6 C75.7,938.0 78.8,929.6 82.1,918.3 C86.0,905.1 90.0,889.0 94.1,875.0 C98.0,861.7 102.1,849.0 106.2,836.4 C110.2,824.1 114.0,811.8 118.2,800.2 C122.1,789.3 126.2,777.6 130.3,768.9 C133.4,762.3 136.9,756.2 139.9,752.0 C141.9,749.2 143.9,746.9 145.8,745.5 C147.1,744.5 148.2,744.2 149.6,743.6 C151.3,742.8 153.3,741.3 155.4,741.3 C157.8,741.3 160.5,742.7 163.0,744.0 C165.9,745.5 168.5,747.6 171.6,749.9 C175.5,752.8 180.9,757.5 184.5,760.1 C187.0,761.9 188.7,762.8 191.0,764.4 C193.7,766.4 196.8,768.9 199.8,771.2 C203.0,773.6 206.2,776.2 209.5,778.6 C212.7,781.0 216.0,783.2 219.3,785.4 C222.5,787.6 225.8,789.6 229.1,791.7 C232.3,793.8 235.6,795.9 238.8,798.1 C242.1,800.3 245.3,802.9 248.6,804.9 C251.8,806.8 255.2,808.0 258.4,809.8 C261.7,811.6 264.9,813.8 268.1,815.7 C271.4,817.7 274.4,819.6 277.9,821.5 C281.7,823.6 285.7,825.7 290.0,827.9 C294.9,830.4 300.6,833.2 306.0,835.6 C311.5,838.1 316.6,840.2 322.7,842.6 C330.0,845.5 338.9,848.9 347.1,851.8 C355.2,854.7 363.3,857.5 371.5,860.2 C379.6,862.9 387.7,865.6 395.9,867.9 C404.0,870.2 412.2,872.0 420.3,874.0 C428.4,876.0 436.2,878.1 444.7,880.1 C453.9,882.2 464.0,884.2 473.6,886.2" fill="none" stroke="#000" stroke-width="1.85" stroke-linejoin="round" stroke-dasharray="12 5.8"/>
<path d="M60.5,998.0 C62.9,986.7 65.2,975.2 67.6,964.1 C70.0,953.4 72.4,942.8 74.9,932.8 C77.2,923.6 79.3,915.9 82.1,906.3 C85.5,894.6 90.0,880.1 94.1,867.7 C98.0,856.0 102.1,845.0 106.2,834.0 C110.2,823.4 114.3,813.4 118.2,802.7 C122.3,791.7 127.6,775.2 130.3,768.9 C131.4,766.3 131.9,765.2 133.0,763.6 C134.0,762.2 135.2,761.0 136.5,759.8 C138.0,758.5 139.7,757.3 141.5,756.3 C143.4,755.3 145.8,754.4 147.9,753.9 C149.8,753.5 151.6,753.2 153.5,753.4 C155.5,753.6 157.8,754.2 159.7,755.0 C161.6,755.9 163.2,757.0 165.1,758.5 C167.7,760.5 170.9,763.8 173.7,766.5 C176.5,769.2 179.2,771.9 182.0,774.5 C184.7,777.0 187.2,779.3 190.0,782.0 C193.1,785.1 196.5,788.8 199.8,792.2 C203.0,795.5 206.2,799.0 209.5,802.0 C212.7,804.9 216.0,807.5 219.3,809.8 C222.5,812.0 225.8,813.9 229.1,815.7 C232.3,817.5 235.6,818.9 238.8,820.5 C242.1,822.1 245.3,823.8 248.6,825.4 C251.9,826.9 255.1,828.3 258.4,829.8 C261.6,831.3 264.8,832.8 268.1,834.2 C271.3,835.6 274.5,836.8 277.9,838.1 C281.7,839.6 285.7,841.1 290.0,842.7 C295.0,844.5 300.6,846.5 306.0,848.3 C311.5,850.1 316.6,851.8 322.7,853.6 C330.0,855.8 339.0,858.2 347.1,860.4 C355.2,862.6 363.4,864.7 371.5,866.7 C379.6,868.7 387.8,870.5 395.9,872.3 C404.0,874.0 412.2,875.6 420.3,877.2 C428.4,878.8 436.2,880.3 444.7,882.0 C453.9,883.8 464.0,885.7 473.6,887.6" fill="none" stroke="#000" stroke-width="2" stroke-linejoin="round"/>
<rect x="358.75" y="730.3" width="114.9" height="99.8" fill="#fff" stroke="#444" stroke-width="1"/>
<path d="M378,746.8 h6.1 M389.4,746.8 h6.2" stroke="#000" stroke-width="1.75"/>
<text x="402.5" y="752.3" class="t">B250 a</text>
<path d="M378,779.9 h12.5" stroke="#000" stroke-width="1.75"/>
<text x="402.5" y="785.4" class="t">B250 b</text>
<path d="M378,813.0 h18" stroke="#000" stroke-width="1.75"/>
<text x="402.5" y="818.5" class="t">B250 c</text>
<text x="253.3" y="1069.7" class="s" text-anchor="middle">(<tspan font-weight="bold">e</tspan>)</text>
<path d="M599.6,730.0999999999999 H1012.6 V998.1999999999999" fill="none" stroke="#222" stroke-width="1.3"/>
<path d="M599.6,730.0999999999999 V998.1999999999999 H1012.6" fill="none" stroke="#222" stroke-width="1.3"/>
<line x1="594.6" y1="998.20" x2="604.6" y2="998.20" stroke="#222" stroke-width="1.3"/>
<text x="585.3" y="1003.8" class="t" text-anchor="end">0</text>
<line x1="594.6" y1="964.69" x2="604.6" y2="964.69" stroke="#222" stroke-width="1.3"/>
<text x="585.3" y="970.3" class="t" text-anchor="end">10</text>
<line x1="594.6" y1="931.17" x2="604.6" y2="931.17" stroke="#222" stroke-width="1.3"/>
<text x="585.3" y="936.8" class="t" text-anchor="end">20</text>
<line x1="594.6" y1="897.66" x2="604.6" y2="897.66" stroke="#222" stroke-width="1.3"/>
<text x="585.3" y="903.3" class="t" text-anchor="end">30</text>
<line x1="594.6" y1="864.15" x2="604.6" y2="864.15" stroke="#222" stroke-width="1.3"/>
<text x="585.3" y="869.7" class="t" text-anchor="end">40</text>
<line x1="594.6" y1="830.64" x2="604.6" y2="830.64" stroke="#222" stroke-width="1.3"/>
<text x="585.3" y="836.2" class="t" text-anchor="end">50</text>
<line x1="594.6" y1="797.12" x2="604.6" y2="797.12" stroke="#222" stroke-width="1.3"/>
<text x="585.3" y="802.7" class="t" text-anchor="end">60</text>
<line x1="594.6" y1="763.61" x2="604.6" y2="763.61" stroke="#222" stroke-width="1.3"/>
<text x="585.3" y="769.2" class="t" text-anchor="end">70</text>
<line x1="594.6" y1="730.10" x2="599.6" y2="730.10" stroke="#222" stroke-width="1.3"/>
<text x="585.3" y="735.7" class="t" text-anchor="end">80</text>
<line x1="599.60" y1="993.6999999999999" x2="599.60" y2="1002.6999999999999" stroke="#222" stroke-width="1.3"/>
<text x="599.60" y="1022.8" class="t" text-anchor="middle">0</text>
<line x1="668.43" y1="993.6999999999999" x2="668.43" y2="1002.6999999999999" stroke="#222" stroke-width="1.3"/>
<text x="668.43" y="1022.8" class="t" text-anchor="middle">0.5</text>
<line x1="737.27" y1="993.6999999999999" x2="737.27" y2="1002.6999999999999" stroke="#222" stroke-width="1.3"/>
<text x="737.27" y="1022.8" class="t" text-anchor="middle">1</text>
<line x1="806.10" y1="993.6999999999999" x2="806.10" y2="1002.6999999999999" stroke="#222" stroke-width="1.3"/>
<text x="806.10" y="1022.8" class="t" text-anchor="middle">1.5</text>
<line x1="874.93" y1="993.6999999999999" x2="874.93" y2="1002.6999999999999" stroke="#222" stroke-width="1.3"/>
<text x="874.93" y="1022.8" class="t" text-anchor="middle">2</text>
<line x1="943.77" y1="993.6999999999999" x2="943.77" y2="1002.6999999999999" stroke="#222" stroke-width="1.3"/>
<text x="943.77" y="1022.8" class="t" text-anchor="middle">2.5</text>
<line x1="1012.60" y1="998.1999999999999" x2="1012.60" y2="1002.6999999999999" stroke="#222" stroke-width="1.3"/>
<text x="1012.60" y="1022.8" class="t" text-anchor="middle">3</text>
<text x="805.7" y="1039.4" class="t b" text-anchor="middle" word-spacing="2">Displacement (mm)</text>
<text transform="translate(560.6,861.8) rotate(-90)" x="0" y="0" class="t b" text-anchor="middle">Force (kN)</text>
<path d="M599.6,998.0 C601.1,995.2 602.4,992.3 604.0,989.5 C605.6,986.6 607.5,983.7 609.1,980.8 C610.7,977.8 612.2,975.2 613.7,971.8 C615.6,967.6 617.3,962.6 619.3,957.3 C621.6,950.9 624.2,942.9 626.7,936.2 C629.0,930.1 631.6,923.3 633.7,918.7 C635.1,915.6 636.2,913.5 637.5,911.0 C638.8,908.5 640.1,906.2 641.5,903.6 C643.1,900.6 644.9,897.4 646.7,894.1 C648.6,890.7 650.8,886.9 652.6,883.5 C654.2,880.4 655.4,877.8 657.0,874.5 C658.9,870.6 661.1,865.9 663.2,861.5 C665.4,856.9 667.6,852.2 670.0,847.5 C672.4,842.7 674.7,838.3 677.5,833.0 C681.0,826.3 686.2,817.2 689.7,810.6 C692.5,805.4 694.8,800.5 697.0,796.5 C698.7,793.4 699.9,790.8 701.5,788.5 C702.9,786.5 704.4,783.7 706.0,783.5 C707.4,783.3 709.2,785.1 710.5,786.5 C712.0,788.1 713.1,790.7 714.1,793.0 C715.1,795.4 715.7,797.6 716.5,800.5 C717.6,804.4 718.2,810.7 719.6,814.6 C720.6,817.5 722.0,819.5 723.2,821.9 L723.2,821.9 C729.6,822.3 735.6,823.0 742.5,823.1 C750.4,823.2 759.1,822.1 768.0,821.9 C777.6,821.6 787.8,821.7 798.1,821.7 C808.8,821.7 821.5,820.8 831.1,821.7 C838.7,822.4 844.4,824.2 851.4,825.6 C858.8,827.1 866.5,828.4 874.3,830.6 C882.6,833.0 891.3,836.1 899.7,839.5 C908.2,842.9 915.7,846.6 925.0,850.9 C936.4,856.1 949.6,862.7 963.1,868.7 C978.2,875.4 995.3,882.2 1011.4,889.0" fill="none" stroke="#000" stroke-width="1.85" stroke-linejoin="round" stroke-dasharray="6 5.4"/>
<path d="M599.6,998.0 C601.1,995.2 602.4,992.3 604.0,989.5 C605.6,986.6 607.5,983.9 609.1,981.0 C610.7,978.0 612.2,975.0 613.7,971.5 C615.6,967.2 617.3,962.3 619.3,957.0 C621.6,950.8 624.2,943.0 626.7,936.5 C629.0,930.4 631.5,924.4 633.7,919.0 C635.6,914.3 637.4,910.5 639.3,905.9 C641.4,900.8 643.5,895.0 645.6,889.5 C647.7,883.9 650.0,877.7 651.9,872.5 C653.5,868.2 654.6,864.9 656.3,860.5 C658.3,855.2 661.0,848.7 663.2,843.2 C665.2,838.2 667.0,833.7 669.0,829.0 C671.0,824.2 673.3,819.4 675.4,814.6 C677.5,809.9 679.5,805.2 681.5,800.5 C683.5,795.7 685.6,790.6 687.6,786.1 C689.4,782.0 691.2,778.1 693.0,774.5 C694.6,771.4 696.1,768.4 698.0,765.8 C699.8,763.3 702.1,760.6 704.2,759.2 C705.8,758.2 707.5,757.5 709.0,757.4 C710.4,757.4 711.8,757.9 713.0,758.6 C714.3,759.4 715.4,760.6 716.5,762.0 C717.8,763.6 718.8,765.8 719.9,768.0 C721.2,770.6 722.5,773.5 724.0,776.5 C725.6,779.8 727.4,783.7 729.2,786.9 C731.0,790.0 732.9,792.9 735.0,795.5 C737.1,798.1 739.2,800.6 741.8,802.5 C744.2,804.4 747.0,805.7 750.0,807.0 C753.2,808.4 756.2,809.2 760.5,810.3 C767.0,811.9 776.7,813.5 785.5,815.0 C795.3,816.7 806.9,818.0 816.8,819.7 C825.6,821.2 835.3,822.7 841.8,824.6 C846.0,825.8 848.8,827.0 852.0,828.6 C855.0,830.1 857.9,831.9 860.5,833.8 C862.9,835.5 864.9,837.4 867.0,839.5 C869.1,841.6 870.8,843.3 873.0,846.2 C876.5,850.8 881.3,858.8 885.5,865.0 C889.7,871.2 894.5,878.9 898.0,883.8 C900.3,886.9 901.9,889.1 904.0,891.5 C906.1,893.8 908.3,895.8 910.5,898.0" fill="none" stroke="#000" stroke-width="1.85" stroke-linejoin="round" stroke-dasharray="12 5.8"/>
<path d="M599.6,998.0 C603.8,986.8 608.1,975.6 612.3,964.5 C616.4,953.5 620.4,942.6 624.5,931.6 C628.6,920.5 632.8,909.3 636.9,898.3 C641.0,887.4 645.1,876.5 649.0,866.0 C652.7,856.1 656.5,845.5 660.0,837.0 C662.8,830.1 665.1,824.6 668.0,818.5 C670.9,812.3 674.5,805.2 677.5,800.0 C679.8,796.0 681.9,792.8 684.0,789.5 C685.9,786.5 687.8,783.5 689.7,780.8 C691.5,778.3 693.2,775.8 695.0,773.8 C696.6,772.0 698.1,770.5 700.0,769.2 C702.1,767.7 704.8,765.9 707.4,765.5 C709.9,765.1 712.5,765.6 715.0,766.5 C717.7,767.4 720.6,769.1 723.0,771.2 C725.8,773.7 728.0,777.5 730.5,781.0 C733.2,784.8 735.9,789.1 738.6,793.1 C741.2,797.0 743.8,800.9 746.5,804.5 C749.0,808.0 751.5,811.2 754.2,814.5 C757.1,817.9 760.4,821.9 763.6,824.4 C766.3,826.5 768.8,827.8 772.0,829.2 C775.9,830.9 780.9,832.4 785.5,833.8 C790.2,835.2 795.0,836.3 800.0,837.6 C805.4,839.0 811.3,840.3 816.8,841.6 C822.0,842.8 826.9,843.9 832.0,845.2 C837.3,846.5 843.3,848.1 848.0,849.6 C851.8,850.8 854.9,851.9 858.0,853.5 C860.9,855.0 863.6,856.7 866.0,858.6 C868.2,860.4 870.2,862.4 872.0,864.5 C873.8,866.7 875.4,869.0 876.8,871.5 C878.2,874.0 879.4,876.8 880.5,879.5 C881.6,882.1 882.4,885.1 883.5,887.5 C884.4,889.7 885.5,891.7 886.5,893.5 C887.3,895.1 888.2,896.4 889.0,897.9" fill="none" stroke="#000" stroke-width="2" stroke-linejoin="round"/>
<rect x="874.8" y="730.0999999999999" width="137.8" height="100.0" fill="#fff" stroke="#444" stroke-width="1"/>
<path d="M907,746.6 h6.1 M918.4,746.6 h6.2" stroke="#000" stroke-width="1.75"/>
<text x="931.5" y="752.1" class="t">L250 a</text>
<path d="M907,779.7 h12.5" stroke="#000" stroke-width="1.75"/>
<text x="931.5" y="785.2" class="t">L250 b</text>
<path d="M907,812.8 h18" stroke="#000" stroke-width="1.75"/>
<text x="931.5" y="818.3" class="t">L250 c</text>
<text x="792.5" y="1069.7" class="s" text-anchor="middle">(<tspan font-weight="bold">f</tspan>)</text>
</svg></body></html>
